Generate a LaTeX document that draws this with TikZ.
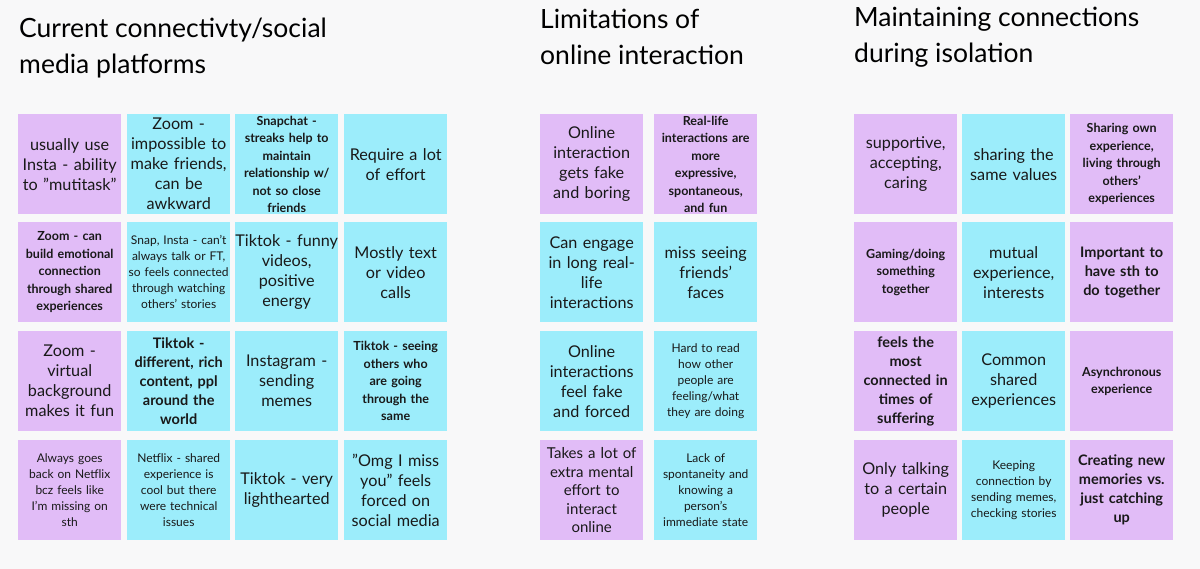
\documentclass[tikz,border=0pt]{standalone}
\usepackage{fontspec}
\setmainfont{Lato}[Ligatures=ResetAll]
\newcommand{\qq}{"}
\definecolor{pur}{HTML}{E1BCF7}
\definecolor{cya}{HTML}{9CEDFB}
\definecolor{bg}{HTML}{F8F8F9}
\tikzset{
 note/.style={anchor=north west,minimum width=101pt,minimum height=100pt,inner sep=0pt,align=center,text width=103pt,text=black!90},
 P/.style={note,fill=pur}, C/.style={note,fill=cya},
 nt/.style={font=\fontsize{16.2}{20}\selectfont},
 mt/.style={font=\fontsize{15}{18.5}\selectfont},
 bs/.style={font=\fontsize{12.5}{17.5}\selectfont\bfseries},
 bm/.style={font=\fontsize{14.5}{19}\selectfont\bfseries},
 sm/.style={font=\fontsize{12}{16}\selectfont},
 head/.style={anchor=north west,align=left,font=\fontsize{26.5}{36}\selectfont,inner sep=0pt}
}
\begin{document}
\begin{tikzpicture}[x=1pt,y=-1pt]
\fill[bg] (0,0) rectangle (1200,569);
\useasboundingbox (0,0) rectangle (1200,569);
\node[head] (h1) at (19,18) {Current connectivty/social\\media platforms};
\node[head] (h2) at (540,9) {Limitations of\\online interaction};
\node[head] (h3) at (854,7) {Maintaining connections\\during isolation};
% section 1
\node[P,nt] (a11) at (18,114) {usually use\\Insta - ability\\to \qq mutitask\qq};
\node[C,nt] (a12) at (127,114) {Zoom -\\impossible to\\make friends,\\can be\\awkward};
\node[C,bs] (a13) at (235,114) {Snapchat -\\streaks help to\\maintain\\relationship w/\\not so close\\friends};
\node[C,nt] (a14) at (344,114) {Require a lot\\of effort};
\node[P,bs] (a21) at (18,222) {Zoom - can\\build emotional\\connection\\through shared\\experiences};
\node[C,sm] (a22) at (127,222) {Snap, Insta - can't\\always talk or FT,\\so feels connected\\through watching\\others' stories};
\node[C,nt] (a23) at (235,222) {Tiktok - funny\\videos,\\positive\\energy};
\node[C,nt] (a24) at (344,222) {Mostly text\\or video\\calls};
\node[P,nt] (a31) at (18,331) {Zoom -\\virtual\\background\\makes it fun};
\node[C,bm] (a32) at (127,331) {Tiktok -\\different, rich\\content, ppl\\around the\\world};
\node[C,nt] (a33) at (235,331) {Instagram -\\sending\\memes};
\node[C,bs] (a34) at (344,331) {Tiktok - seeing\\others who\\are going\\through the\\same};
\node[P,sm] (a41) at (18,440) {Always goes\\back on Netflix\\bcz feels like\\I'm missing on\\sth};
\node[C,sm] (a42) at (127,440) {Netflix - shared\\experience is\\cool but there\\were technical\\issues};
\node[C,nt] (a43) at (235,440) {Tiktok - very\\lighthearted};
\node[C,nt] (a44) at (344,440) {\qq Omg I miss\\you\qq{} feels\\forced on\\social media};
% section 2
\node[P,nt] (b11) at (540,114) {Online\\interaction\\gets fake\\and boring};
\node[P,bs] (b12) at (654,114) {Real-life\\interactions are\\more\\expressive,\\spontaneous,\\and fun};
\node[C,nt] (b21) at (540,222) {Can engage\\in long real-\\life\\interactions};
\node[C,nt] (b22) at (654,222) {miss seeing\\friends'\\faces};
\node[C,nt] (b31) at (540,331) {Online\\interactions\\feel fake\\and forced};
\node[C,sm] (b32) at (654,331) {Hard to read\\how other\\people are\\feeling/what\\they are doing};
\node[P,mt] (b41) at (540,440) {Takes a lot of\\extra mental\\effort to\\interact\\online};
\node[C,sm] (b42) at (654,440) {Lack of\\spontaneity and\\knowing a\\person's\\immediate state};
% section 3
\node[P,nt] (c11) at (854,114) {supportive,\\accepting,\\caring};
\node[C,nt] (c12) at (962,114) {sharing the\\same values};
\node[P,bs] (c13) at (1070,114) {Sharing own\\experience,\\living through\\others'\\experiences};
\node[P,bs] (c21) at (854,222) {Gaming/doing\\something\\together};
\node[C,nt] (c22) at (962,222) {mutual\\experience,\\interests};
\node[P,bm] (c23) at (1070,222) {Important to\\have sth to\\do together};
\node[P,bm] (c31) at (854,331) {feels the\\most\\connected in\\times of\\suffering};
\node[C,nt] (c32) at (962,331) {Common\\shared\\experiences};
\node[P,bs] (c33) at (1070,331) {Asynchronous\\experience};
\node[P,nt] (c41) at (854,440) {Only talking\\to a certain\\people};
\node[C,sm] (c42) at (962,440) {Keeping\\connection by\\sending memes,\\checking stories};
\node[P,bm] (c43) at (1070,440) {Creating new\\memories vs.\\just catching\\up};
\end{tikzpicture}
\end{document}
